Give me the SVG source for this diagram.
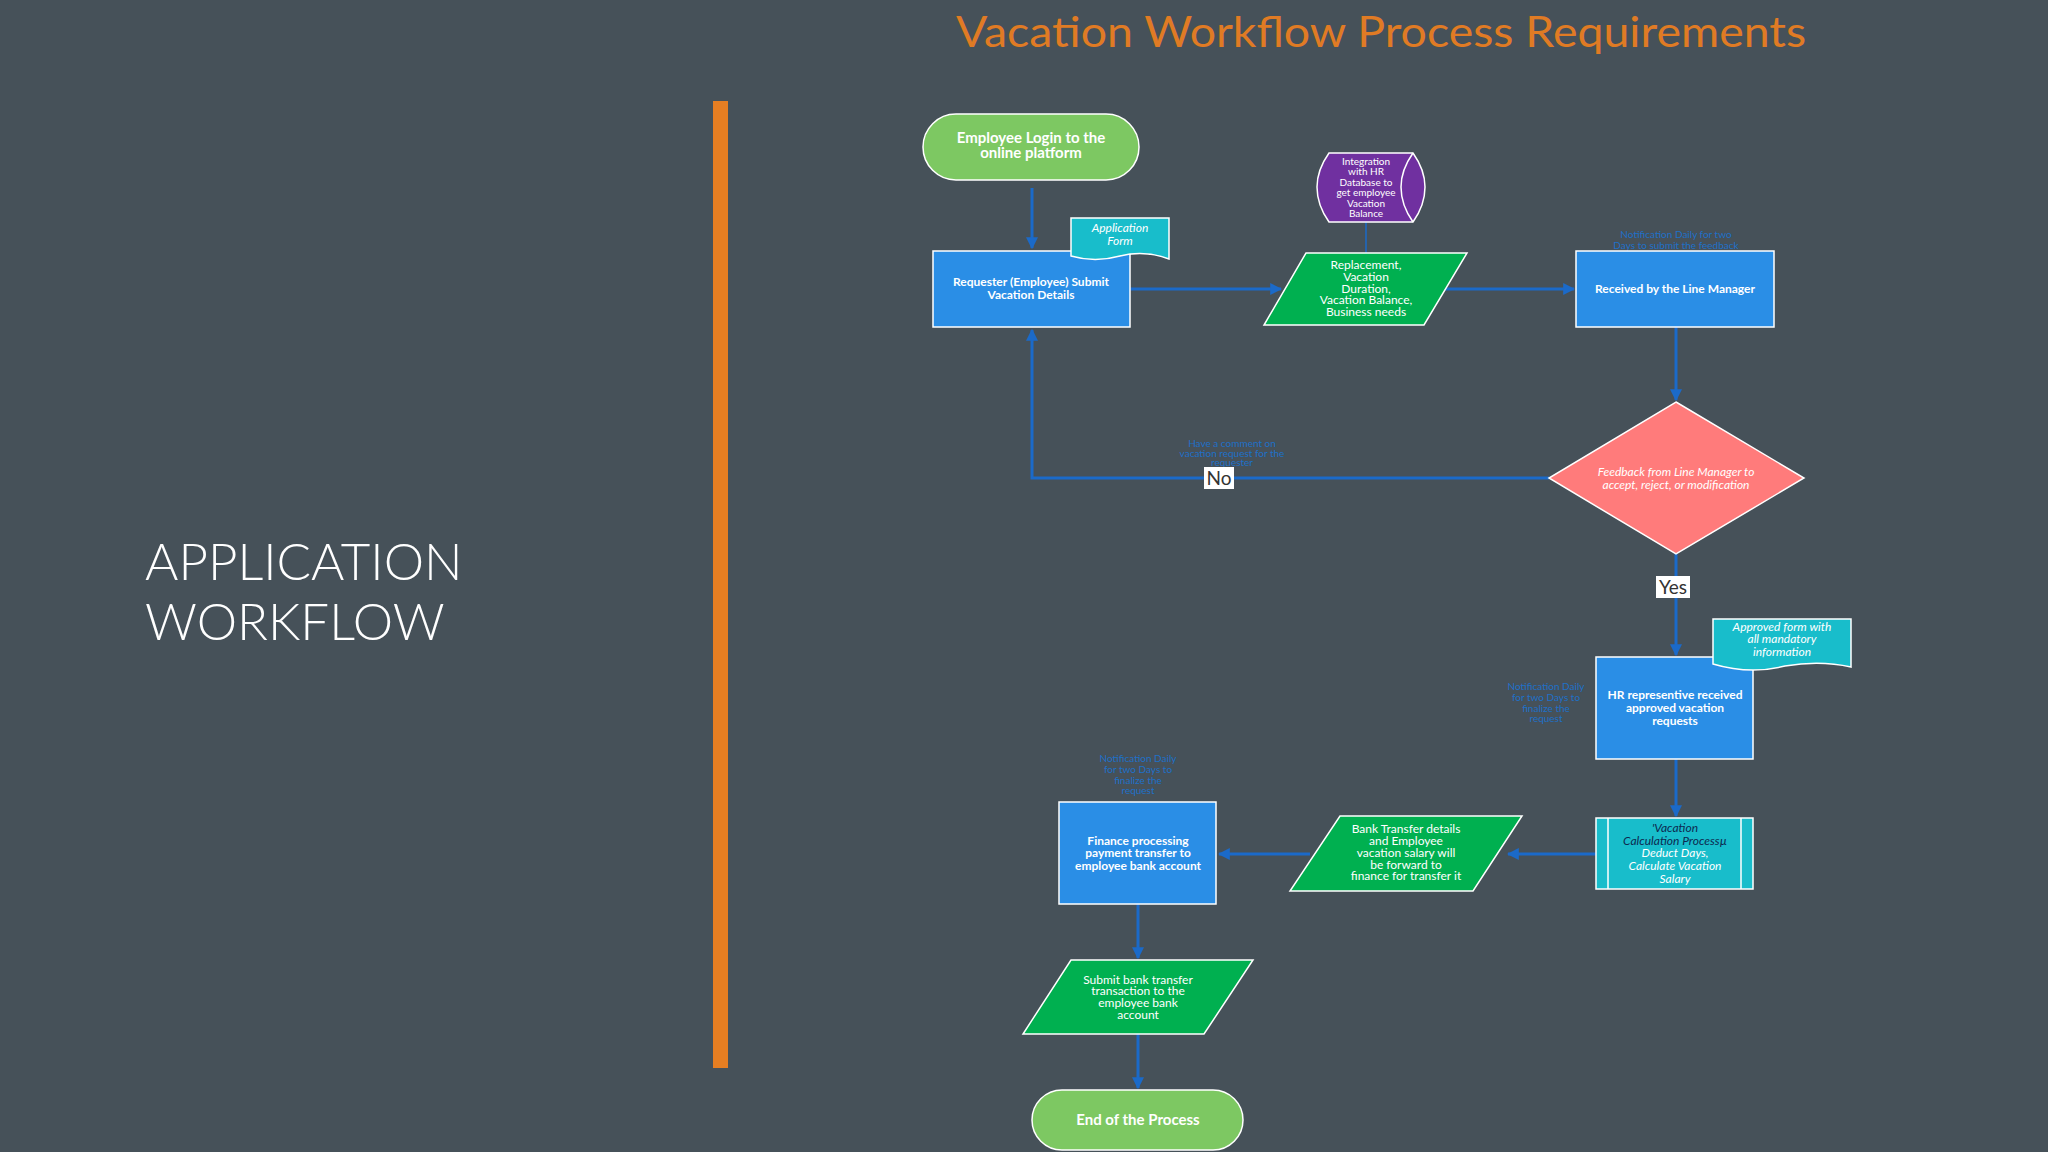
<svg xmlns="http://www.w3.org/2000/svg" width="2048" height="1152" viewBox="0 0 2048 1152">
<defs>
<marker id="ah" viewBox="0 0 10 10" refX="9" refY="5" markerWidth="4" markerHeight="4" orient="auto-start-reverse"><path d="M0,0 L10,5 L0,10 z" fill="#1B6AC9"/></marker>
<style>
text{font-family:Lato,"Open Sans","Liberation Sans",sans-serif;text-anchor:middle}
.sh{stroke:#fff;stroke-width:1.5}
.b{fill:#2A8EE6}.g{fill:#00B050}.lg{fill:#7DC862}.t{fill:#18BDCB}
.wt{fill:#fff;font-size:12px;font-weight:bold}
.pt{fill:#fff;font-size:12px}
.nt{fill:#1E70C8;font-size:10px}
.c{fill:none;stroke:#1B6AC9;stroke-width:3}
</style>
</defs>
<rect width="2048" height="1152" fill="#465159"/>
<text x="1381" y="47" textLength="850" lengthAdjust="spacingAndGlyphs" style="font-size:42px;fill:#E07B24">Vacation Workflow Process Requirements</text>
<rect x="713" y="101" width="15" height="967" fill="#E67E22"/>
<text x="145" y="580" style="font-size:51px;fill:#fff;text-anchor:start;font-weight:300">APPLICATION</text>
<text x="145" y="640" style="font-size:51px;fill:#fff;text-anchor:start;font-weight:300">WORKFLOW</text>
<g id="connectors">
<path class="c" d="M1032,188 V248" marker-end="url(#ah)"/>
<path class="c" d="M1130,289 H1281" marker-end="url(#ah)"/>
<path class="c" d="M1366,222 V253" style="stroke-width:1.5"/>
<path class="c" d="M1435,289 H1574" marker-end="url(#ah)"/>
<path class="c" d="M1676,327 V400" marker-end="url(#ah)"/>
<path class="c" d="M1549,478 H1032 V330" marker-end="url(#ah)"/>
<path class="c" d="M1676,554 V655" marker-end="url(#ah)"/>
<path class="c" d="M1676,759 V816" marker-end="url(#ah)"/>
<path class="c" d="M1596,854 H1508" marker-end="url(#ah)"/>
<path class="c" d="M1310,854 H1219" marker-end="url(#ah)"/>
<path class="c" d="M1138,904 V958" marker-end="url(#ah)"/>
<path class="c" d="M1138,1034 V1088" marker-end="url(#ah)"/>
</g>
<g id="labels">
<text class="nt" x="1232" y="447">Have a comment on</text>
<text class="nt" x="1232" y="457">vacation request for the</text>
<text class="nt" x="1232" y="466">requester</text>
<rect x="1204" y="467" width="30" height="22" fill="#fff"/>
<text x="1219" y="485" style="font-size:19px;fill:#333">No</text>
<rect x="1656" y="576" width="34" height="22" fill="#fff"/>
<text x="1673" y="594" style="font-size:19px;fill:#333">Yes</text>
<text class="nt" x="1676" y="238">Notification Daily for two</text>
<text class="nt" x="1676" y="249">Days to submit the feedback</text>
<text class="nt" x="1546" y="690">Notification Daily</text>
<text class="nt" x="1546" y="701">for two Days to</text>
<text class="nt" x="1546" y="712">finalize the</text>
<text class="nt" x="1546" y="722">request</text>
<text class="nt" x="1138" y="762">Notification Daily</text>
<text class="nt" x="1138" y="773">for two Days to</text>
<text class="nt" x="1138" y="784">finalize the</text>
<text class="nt" x="1138" y="794">request</text>
</g>
<g id="start">
<rect class="sh lg" x="923" y="114" width="216" height="66" rx="33"/>
<text x="1031" y="143" style="fill:#fff;font-size:15px;font-weight:bold">Employee Login to the</text>
<text x="1031" y="158" style="fill:#fff;font-size:15px;font-weight:bold">online platform</text>
</g>
<g id="submit">
<rect class="sh b" x="933" y="251" width="197" height="76"/>
<text class="wt" x="1031" y="286">Requester (Employee) Submit</text>
<text class="wt" x="1031" y="299">Vacation Details</text>
</g>
<g id="appform">
<path class="sh t" d="M1071,218 H1169 V259 Q1145,250 1120,256 Q1095,263 1071,256 Z"/>
<text x="1120" y="232" style="fill:#fff;font-size:12px;font-style:italic">Application</text>
<text x="1120" y="245" style="fill:#fff;font-size:12px;font-style:italic">Form</text>
</g>
<g id="hrdb">
<path class="sh" fill="#7030A0" d="M1329,153 H1413 Q1425,170 1425,187 Q1425,205 1413,222 H1329 Q1317,205 1317,187 Q1317,170 1329,153 Z"/>
<path d="M1413,153 Q1401,170 1401,187 Q1401,205 1413,222" fill="none" stroke="#fff" stroke-width="1.5"/>
<text class="pt" x="1366" y="165" style="font-size:10px">Integration</text>
<text class="pt" x="1366" y="175" style="font-size:10px">with HR</text>
<text class="pt" x="1366" y="186" style="font-size:10px">Database to</text>
<text class="pt" x="1366" y="196" style="font-size:10px">get employee</text>
<text class="pt" x="1366" y="207" style="font-size:10px">Vacation</text>
<text class="pt" x="1366" y="217" style="font-size:10px">Balance</text>
</g>
<g id="details">
<polygon class="sh g" points="1306,253 1467,253 1424,325 1264,325"/>
<text class="pt" x="1366" y="269">Replacement,</text>
<text class="pt" x="1366" y="281">Vacation</text>
<text class="pt" x="1366" y="293">Duration,</text>
<text class="pt" x="1366" y="304">Vacation Balance,</text>
<text class="pt" x="1366" y="316">Business needs</text>
</g>
<g id="linemanager">
<rect class="sh b" x="1576" y="251" width="198" height="76"/>
<text class="wt" x="1675" y="293">Received by the Line Manager</text>
</g>
<g id="feedback">
<polygon class="sh" fill="#FF7B7B" points="1676,402 1804,478 1676,554 1549,478"/>
<text x="1676" y="476" style="fill:#fff;font-size:12px;font-style:italic">Feedback from Line Manager to</text>
<text x="1676" y="489" style="fill:#fff;font-size:12px;font-style:italic">accept, reject, or modification</text>
</g>
<g id="hr">
<rect class="sh b" x="1596" y="657" width="157" height="102"/>
<text class="wt" x="1675" y="699">HR representive received</text>
<text class="wt" x="1675" y="712">approved vacation</text>
<text class="wt" x="1675" y="725">requests</text>
</g>
<g id="approved">
<path class="sh t" d="M1713,619 H1851 V667 Q1820,660 1785,666 Q1750,675 1713,664 Z"/>
<text x="1782" y="631" style="fill:#fff;font-size:12px;font-style:italic">Approved form with</text>
<text x="1782" y="643" style="fill:#fff;font-size:12px;font-style:italic">all mandatory</text>
<text x="1782" y="656" style="fill:#fff;font-size:12px;font-style:italic">information</text>
</g>
<g id="calc">
<rect class="sh t" x="1596" y="818" width="157" height="71"/>
<path d="M1608,818 V889 M1741,818 V889" stroke="#fff" stroke-width="1.5"/>
<text x="1675" y="832" style="fill:#0D2A50;font-size:12px;font-style:italic">'Vacation</text>
<text x="1675" y="845" style="fill:#0D2A50;font-size:12px;font-style:italic">Calculation Processµ</text>
<text x="1675" y="857" style="fill:#fff;font-size:12px;font-style:italic">Deduct Days,</text>
<text x="1675" y="870" style="fill:#fff;font-size:12px;font-style:italic">Calculate Vacation</text>
<text x="1675" y="883" style="fill:#fff;font-size:12px;font-style:italic">Salary</text>
</g>
<g id="banktransfer">
<polygon class="sh g" points="1340,816 1522,816 1473,891 1290,891"/>
<text class="pt" x="1406" y="833">Bank Transfer details</text>
<text class="pt" x="1406" y="845">and Employee</text>
<text class="pt" x="1406" y="857">vacation salary will</text>
<text class="pt" x="1406" y="869">be forward to</text>
<text class="pt" x="1406" y="880">finance for transfer it</text>
</g>
<g id="finance">
<rect class="sh b" x="1059" y="802" width="157" height="102"/>
<text class="wt" x="1138" y="845">Finance processing</text>
<text class="wt" x="1138" y="857">payment transfer to</text>
<text class="wt" x="1138" y="870">employee bank account</text>
</g>
<g id="submitbank">
<polygon class="sh g" points="1071,960 1253,960 1204,1034 1023,1034"/>
<text class="pt" x="1138" y="984">Submit bank transfer</text>
<text class="pt" x="1138" y="995">transaction to the</text>
<text class="pt" x="1138" y="1007">employee bank</text>
<text class="pt" x="1138" y="1019">account</text>
</g>
<g id="end">
<rect class="sh lg" x="1032" y="1090" width="211" height="60" rx="30"/>
<text x="1138" y="1125" style="fill:#fff;font-size:15px;font-weight:bold">End of the Process</text>
</g>
</svg>
